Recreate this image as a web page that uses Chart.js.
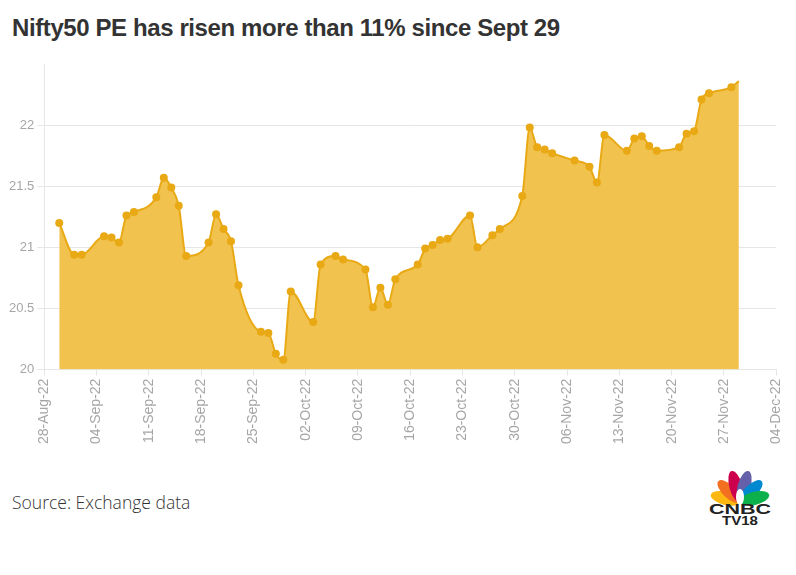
<!DOCTYPE html>
<html>
<head>
<meta charset="utf-8">
<script src="https://cdn.jsdelivr.net/npm/chart.js@4"></script>
<style>
  body { margin: 0; background: #fff; width: 796px; height: 575px; position: relative; overflow: hidden; }
  #title { position: absolute; left: 12px; top: 14px; margin: 0; font: bold 24px "Liberation Sans Narrow", "Liberation Sans", sans-serif; color: #333; letter-spacing: -0.4px; }
  #wrap { position: absolute; left: 0; top: 50px; width: 796px; height: 397px; }
  #source { position: absolute; left: 12px; top: 490px; font: 300 17.5px "Open Sans", sans-serif; color: #333; }
  #logo { position: absolute; left: 704px; top: 462px; }
</style>
</head>
<body>
<h1 id="title">Nifty50 PE has risen more than 11% since Sept 29</h1>
<div id="wrap"><canvas id="peChart"></canvas></div>
<div id="source">Source: Exchange data</div>
<svg id="logo" width="72" height="66" viewBox="0 0 72 66">
  <g transform="translate(36,40)">
    <ellipse cx="0" cy="-15" rx="6.5" ry="15" fill="#fcb711" transform="rotate(-76)"/>
    <ellipse cx="0" cy="-15" rx="6.5" ry="15" fill="#f37021" transform="rotate(-46)"/>
    <ellipse cx="0" cy="-16" rx="6.5" ry="16" fill="#cc004c" transform="rotate(-15)"/>
    <ellipse cx="0" cy="-16" rx="6.5" ry="16" fill="#6460aa" transform="rotate(15)"/>
    <ellipse cx="0" cy="-15" rx="6.5" ry="15" fill="#0089d0" transform="rotate(46)"/>
    <ellipse cx="0" cy="-15" rx="6.5" ry="15" fill="#0db14b" transform="rotate(76)"/>
    <ellipse cx="0" cy="-5" rx="4" ry="8" fill="#fff"/>
  </g>
  <text x="36" y="52" text-anchor="middle" font-family="Liberation Sans" font-weight="bold" font-size="15" fill="#222" textLength="62" lengthAdjust="spacingAndGlyphs">CNBC</text>
  <text x="36" y="63" text-anchor="middle" font-family="Liberation Sans" font-weight="bold" font-size="12" fill="#222" textLength="36" lengthAdjust="spacingAndGlyphs">TV18</text>
</svg>
<script>
// Nifty50 PE, trading days
const dates = [
  "2022-08-30", "2022-09-01", "2022-09-02", "2022-09-05", "2022-09-06", "2022-09-07", "2022-09-08", "2022-09-09",
  "2022-09-12", "2022-09-13", "2022-09-14", "2022-09-15", "2022-09-16", "2022-09-19", "2022-09-20", "2022-09-21",
  "2022-09-22", "2022-09-23", "2022-09-26", "2022-09-27", "2022-09-28", "2022-09-29", "2022-09-30", "2022-10-03",
  "2022-10-04", "2022-10-06", "2022-10-07", "2022-10-10", "2022-10-11", "2022-10-12", "2022-10-13", "2022-10-14",
  "2022-10-17", "2022-10-18", "2022-10-19", "2022-10-20", "2022-10-21", "2022-10-24", "2022-10-25", "2022-10-27",
  "2022-10-28", "2022-10-31", "2022-11-01", "2022-11-02", "2022-11-03", "2022-11-04", "2022-11-07", "2022-11-09",
  "2022-11-10", "2022-11-11", "2022-11-14", "2022-11-15", "2022-11-16", "2022-11-17", "2022-11-18", "2022-11-21",
  "2022-11-22", "2022-11-23", "2022-11-24", "2022-11-25", "2022-11-28", "2022-11-29"
];
const peValues = [
  21.20, 20.94, 20.94, 21.09, 21.08, 21.04, 21.26, 21.29,
  21.41, 21.57, 21.49, 21.34, 20.93, 21.04, 21.27, 21.15,
  21.05, 20.69, 20.31, 20.30, 20.13, 20.08, 20.64, 20.39,
  20.86, 20.93, 20.90, 20.82, 20.51, 20.67, 20.53, 20.74,
  20.86, 20.99, 21.02, 21.06, 21.07, 21.26, 21.00, 21.10,
  21.15, 21.42, 21.98, 21.82, 21.80, 21.77, 21.71, 21.66,
  21.53, 21.92, 21.79, 21.89, 21.91, 21.83, 21.79, 21.82,
  21.93, 21.95, 22.21, 22.26, 22.31, 22.36
];
const tickLabels = [
  "28-Aug-22", "04-Sep-22", "11-Sep-22", "18-Sep-22", "25-Sep-22", "02-Oct-22", "09-Oct-22", "16-Oct-22",
  "23-Oct-22", "30-Oct-22", "06-Nov-22", "13-Nov-22", "20-Nov-22", "27-Nov-22", "04-Dec-22"
];
const yTicks = [20, 20.5, 21, 21.5, 22];

const start = Date.UTC(2022, 7, 28);
const points = dates.map((d, i) => {
  const p = d.split("-").map(Number);
  const day = (Date.UTC(p[0], p[1] - 1, p[2]) - start) / 86400000;
  return { x: day, y: peValues[i] };
});
const radii = points.map((p, i) => i === points.length - 1 ? 0 : 4);

const gridGrey = "#e6e6e6";
const tickGrey = "#a6a6a6";

new Chart(document.getElementById("peChart"), {
  type: "line",
  data: {
    datasets: [{
      label: "Nifty50 PE",
      data: points,
      borderColor: "#e8a914",
      backgroundColor: "#f2c24f",
      borderWidth: 2,
      fill: "origin",
      pointRadius: radii,
      pointBackgroundColor: "#e8a914",
      pointBorderWidth: 0,
      cubicInterpolationMode: "monotone"
    }]
  },
  options: {
    responsive: true,
    maintainAspectRatio: false,
    animation: false,
    layout: { padding: { left: 6, right: 14, top: 14, bottom: 0 } },
    plugins: { legend: { display: false }, tooltip: { enabled: false } },
    scales: {
      x: {
        type: "linear",
        min: 0,
        max: 98,
        afterBuildTicks: (axis) => {
          axis.ticks = tickLabels.map((_, i) => ({ value: i * 7 }));
        },
        ticks: {
          autoSkip: false,
          maxRotation: 90,
          minRotation: 90,
          color: tickGrey,
          font: { family: "Liberation Sans", size: 14 },
          padding: 3,
          callback: (v) => tickLabels[Math.round(v / 7)]
        },
        grid: { drawOnChartArea: false, color: gridGrey, tickLength: 6 },
        border: { color: gridGrey }
      },
      y: {
        min: 20,
        max: 22.5,
        afterBuildTicks: (axis) => {
          axis.ticks = yTicks.map(v => ({ value: v }));
        },
        ticks: {
          color: tickGrey,
          font: { family: "Liberation Sans", size: 13 },
          padding: 3,
          callback: (v) => String(v)
        },
        grid: { color: gridGrey, tickLength: 7 },
        border: { color: gridGrey }
      }
    }
  }
});
</script>
</body>
</html>
